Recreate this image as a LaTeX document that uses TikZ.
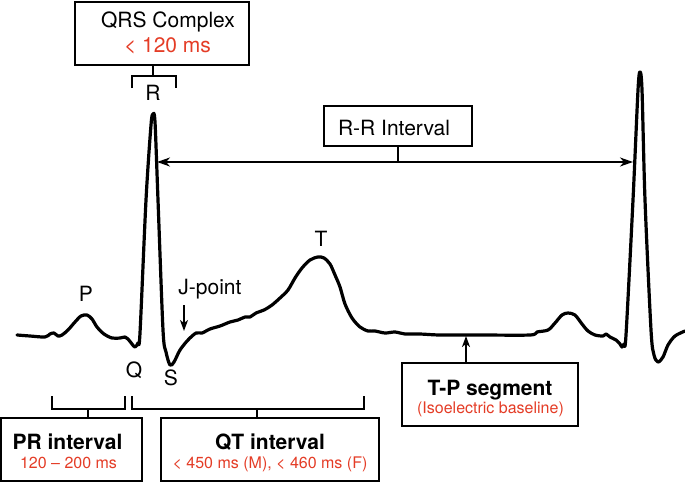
\documentclass[tikz,border=0pt]{standalone}
\usepackage{fontspec}
\setmainfont{TeX Gyre Heros}
\usetikzlibrary{arrows.meta}
\definecolor{ecgred}{RGB}{228,60,38}
\begin{document}
\begin{tikzpicture}[x=1pt,y=-1pt,
  box/.style={draw, line width=1.3pt, inner sep=0pt},
  lbl/.style={font=\fontsize{21}{24}\selectfont, inner sep=0pt, anchor=base},
  blbl/.style={font=\fontsize{21}{24}\selectfont\bfseries, inner sep=0pt, anchor=base},
  rlbl/.style={font=\fontsize{16}{19}\selectfont, text=ecgred, inner sep=0pt, anchor=base},
  brk/.style={line width=1.3pt},
  arr/.style={line width=1.8pt, -{Stealth[length=13pt,width=9pt,inset=4pt]}},
  ecg/.style={line width=3.2pt, line join=round, line cap=round}]
\useasboundingbox (0,0) rectangle (685,482);

% ECG trace
\draw[ecg] plot[smooth, tension=0.5] coordinates {
 (17,335) (30,336) (45,337) (50,334) (54,333) (58,336) (62,335) (68,330) (75,322)
 (81,316) (87,315) (92,319) (97,327) (104,334) (112,338) (120,338) (125,337) (128,339)
 (132,344) (135,347) (138,343) (140,333) (146,200) (151,125) (153,114) (155,122)
 (158,200) (163,330) (166,352) (170,365) (174,362) (180,350) (188,340) (196,333)
 (202,333) (210,329) (220,326) (230,322) (238,320) (245,317) (250,317) (256,313)
 (264,310) (272,305) (280,298) (288,290) (295,278) (302,268) (310,260) (318,257)
 (324,258) (330,264) (335,275) (340,287) (345,304) (352,318) (360,327) (368,331)
 (375,331) (385,333) (395,332) (405,334) (420,334) (440,335) (480,335) (530,335)
 (537,332) (548,330) (555,323) (562,315) (568,313) (575,315) (582,324) (588,331)
 (595,335) (603,336) (606,334) (610,337) (616,340) (620,344) (622,347) (624,344)
 (626,335) (633,200) (638,90) (640,72) (642,90) (645,200) (651,330) (654,355)
 (658,362) (663,357) (668,345) (675,336) (685,331)};

% Wave labels
\node[lbl] (lp) at (86,301) {P};
\node[lbl] (lq) at (134,377) {Q};
\node[lbl] (ls) at (171,385) {S};
\node[lbl] (lt) at (321,246) {T};
\node[lbl] (lr) at (153,100) {R};
\node[lbl] (lj) at (210,294) {J-point};
\coordinate (jtop) at (184,305);
\coordinate (jbot) at (184,331);
\draw[line width=1.6pt, -{Stealth[length=11pt,width=8pt,inset=3pt]}] (jtop) -- (jbot);

% QRS complex box
\node[box, minimum width=174pt, minimum height=63pt] (qrs) at (162,33.5) {};
\node[lbl] (qrst) at (168,27) {QRS Complex};
\node[rlbl, font=\fontsize{21}{24}\selectfont] (qrsv) at (167.5,52) {< 120 ms};
\coordinate (qrsb) at (153,76);
\draw[brk] (qrs.south -| qrsb) -- (qrsb);
\draw[brk] (132,88) -- (132,76) -- (176,76) -- (176,88);

% R-R interval
\node[box, minimum width=148pt, minimum height=40pt] (rr) at (398,126) {};
\node[lbl] (rrt) at (394,135) {R-R Interval};
\coordinate (rrl) at (157,162);
\coordinate (rrr) at (633,162);
\coordinate (rrm) at (398,162);
\draw[line width=1.8pt, {Stealth[length=13pt,width=9pt,inset=4pt]}-{Stealth[length=13pt,width=9pt,inset=4pt]}] (rrl) -- (rrr);
\draw[line width=1.5pt] (rr.south) -- (rrm);

% PR interval
\node[box, minimum width=141pt, minimum height=63pt] (pr) at (71.5,449.5) {};
\node[blbl] (prt) at (67.5,449) {PR interval};
\node[rlbl] (prv) at (68.5,468) {120 -- 200 ms};
\coordinate (prb) at (88,409);
\draw[brk] (52,396) -- (52,409) -- (125,409) -- (125,396);
\draw[brk] (pr.north -| prb) -- (prb);

% QT interval
\node[box, minimum width=218pt, minimum height=63pt] (qt) at (270,449.5) {};
\node[blbl] (qtt) at (270,449) {QT interval};
\node[rlbl] (qtv) at (270,468) {< 450 ms (M), < 460 ms (F)};
\coordinate (qtb) at (257,409);
\draw[brk] (132,396) -- (132,409) -- (364,409) -- (364,396);
\draw[brk] (qt.north -| qtb) -- (qtb);

% T-P segment
\node[box, minimum width=176pt, minimum height=63pt] (tp) at (490,394.5) {};
\node[blbl] (tpt) at (490,395) {T-P segment};
\node[rlbl] (tpv) at (490.5,413) {(Isoelectric baseline)};
\coordinate (tptop) at (466,336);
\draw[line width=1.6pt, -{Stealth[length=11pt,width=8pt,inset=3pt]}] (tp.north -| tptop) -- (tptop);
\end{tikzpicture}
\end{document}
